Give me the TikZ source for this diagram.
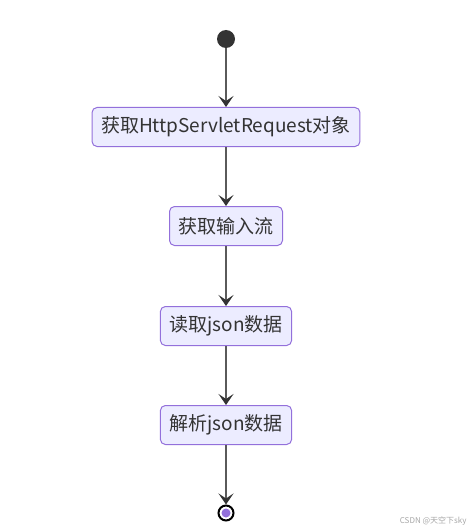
\documentclass[tikz,border=0pt]{standalone}
\usepackage{fontspec}
\setmainfont{Noto Sans CJK SC}
\usetikzlibrary{arrows.meta}
\definecolor{boxfill}{HTML}{ECECFF}
\definecolor{boxline}{HTML}{9370DB}
\definecolor{flowline}{HTML}{333333}
\definecolor{flowshaft}{HTML}{5A5A5A}
\tikzset{
  act/.style={draw=boxline, fill=boxfill, rounded corners=5pt, line width=1pt,
    minimum height=39pt, inner xsep=9pt, font=\fontsize{19}{22}\selectfont, text=flowline},
  flow/.style={-{Stealth[length=11pt,width=15pt,inset=5pt,color=flowline]}, draw=flowshaft, line width=1.5pt}
}
\begin{document}
\begin{tikzpicture}[x=1pt,y=-1pt]
  \useasboundingbox (0,0) rectangle (474,532);
  \node[circle, fill=flowline, minimum size=18pt, inner sep=0pt] (start) at (226,39) {};
  \node[act] (request) at (226,127) {获取HttpServletRequest对象};
  \node[act] (stream) at (226,226) {获取输入流};
  \node[act] (read) at (226,326) {读取json数据};
  \node[act] (parse) at (226,425) {解析json数据};
  \node[circle, draw=black, line width=2pt, fill=white, minimum size=15pt, inner sep=0pt] (stop) at (226,513) {};
  \node[circle, fill=boxline, minimum size=9pt, inner sep=0pt] (stopdot) at (stop) {};
  \node[anchor=east, text=black!35, font=\fontsize{8}{9}\selectfont] (mark) at (470,521) {CSDN @天空下sky};
  \begin{scope}[flow]
    \draw (start) to (request);
    \draw (request) to (stream);
    \draw (stream) to (read);
    \draw (read) to (parse);
    \draw (parse) to (stop);
  \end{scope}
\end{tikzpicture}
\end{document}
